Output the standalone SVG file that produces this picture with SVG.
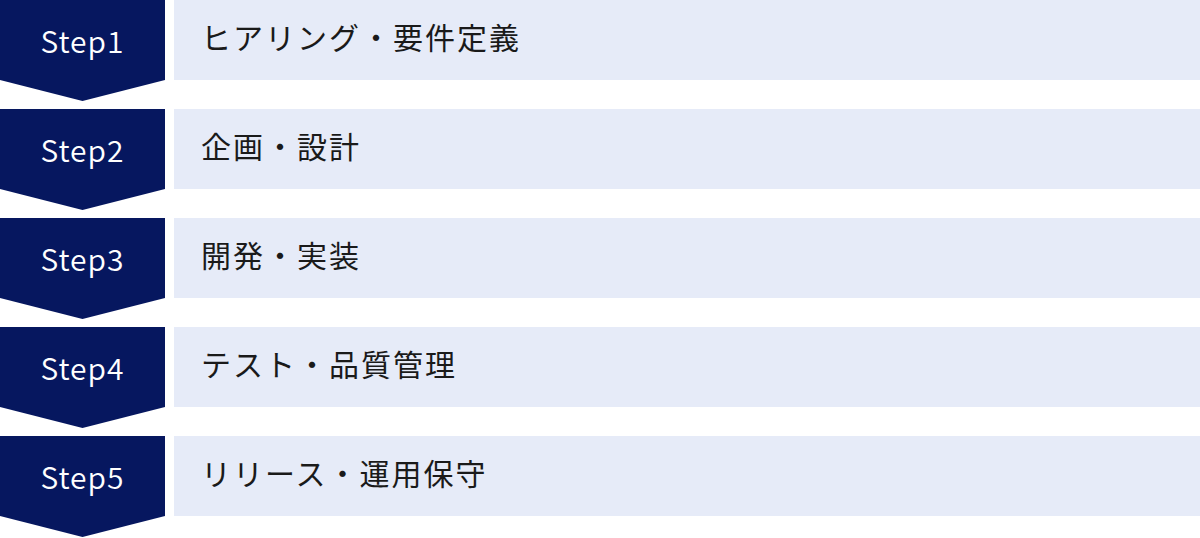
<svg xmlns="http://www.w3.org/2000/svg" width="1200" height="538" viewBox="0 0 1200 538">
<style>
.step{fill:#06175f}
.bar{fill:#e6ebf8}
.lbl{font-family:"Noto Sans CJK JP","Noto Sans",sans-serif;font-size:30px;font-weight:350;fill:#ffffff;text-anchor:middle;letter-spacing:1px}
.txt{font-family:"Noto Sans CJK JP","Noto Sans",sans-serif;font-size:30px;fill:#1a1a1a;letter-spacing:2px}
</style>
<rect width="1200" height="538" fill="#ffffff"/>
<g id="step1">
<polygon class="step" points="0,0 165,0 165,80 82.5,101 0,80"/>
<text class="lbl" x="82.5" y="53">Step1</text>
<rect class="bar" x="174" y="0" width="1026" height="80"/>
<text class="txt" x="201" y="49">ヒアリング・要件定義</text>
</g>
<g id="step2">
<polygon class="step" points="0,109 165,109 165,189 82.5,210 0,189"/>
<text class="lbl" x="82.5" y="162">Step2</text>
<rect class="bar" x="174" y="109" width="1026" height="80"/>
<text class="txt" x="201" y="158">企画・設計</text>
</g>
<g id="step3">
<polygon class="step" points="0,218 165,218 165,298 82.5,319 0,298"/>
<text class="lbl" x="82.5" y="271">Step3</text>
<rect class="bar" x="174" y="218" width="1026" height="80"/>
<text class="txt" x="201" y="267">開発・実装</text>
</g>
<g id="step4">
<polygon class="step" points="0,327 165,327 165,407 82.5,428 0,407"/>
<text class="lbl" x="82.5" y="380">Step4</text>
<rect class="bar" x="174" y="327" width="1026" height="80"/>
<text class="txt" x="201" y="376">テスト・品質管理</text>
</g>
<g id="step5">
<polygon class="step" points="0,436 165,436 165,516 82.5,537 0,516"/>
<text class="lbl" x="82.5" y="489">Step5</text>
<rect class="bar" x="174" y="436" width="1026" height="80"/>
<text class="txt" x="201" y="485">リリース・運用保守</text>
</g>
<g id="connectors"></g>
</svg>
